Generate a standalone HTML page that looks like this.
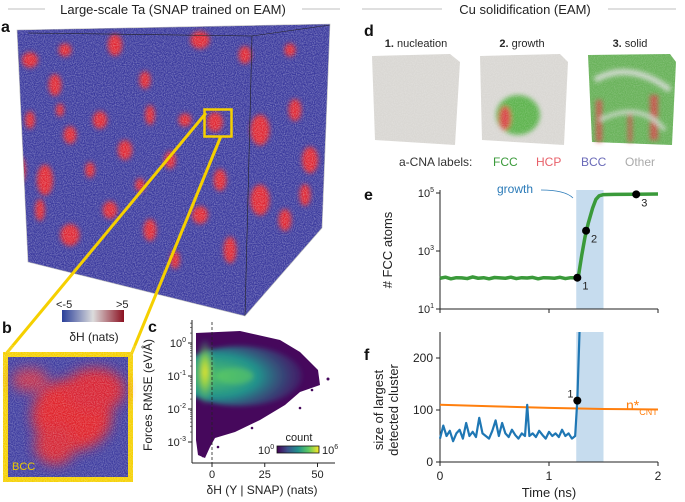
<!DOCTYPE html>
<html><head><meta charset="utf-8"><style>
html,body{margin:0;padding:0;background:#fff;width:685px;height:502px;overflow:hidden}
svg text{font-family:"Liberation Sans","DejaVu Sans",sans-serif}
</style></head><body>
<svg id="fig" width="685" height="502" viewBox="0 0 685 502" xmlns="http://www.w3.org/2000/svg">
<defs>
<filter id="blur3"><feGaussianBlur stdDeviation="2.5"/></filter>
<filter id="blur6"><feGaussianBlur stdDeviation="6"/></filter>
<filter id="noise"><feTurbulence type="fractalNoise" baseFrequency="0.9" numOctaves="1" seed="3"/><feColorMatrix values="0 0 0 0 1  0 0 0 0 1  0 0 0 0 1  0 0 0 -1.6 1.05"/></filter>
<linearGradient id="cbar" x1="0" x2="1"><stop offset="0" stop-color="#2a3f9a"/><stop offset="0.5" stop-color="#dcdcdc"/><stop offset="1" stop-color="#8b1020"/></linearGradient>
<linearGradient id="viridis" x1="0" x2="1"><stop offset="0" stop-color="#440154"/><stop offset="0.25" stop-color="#3b528b"/><stop offset="0.5" stop-color="#21918c"/><stop offset="0.75" stop-color="#5ec962"/><stop offset="1" stop-color="#fde725"/></linearGradient>
<radialGradient id="core" cx="0.5" cy="0.5" r="0.5"><stop offset="0" stop-color="#f0e52a"/><stop offset="0.4" stop-color="#8fd04a"/><stop offset="1" stop-color="#2a9a8a" stop-opacity="0"/></radialGradient>
<radialGradient id="mid" cx="0.3" cy="0.5" r="0.7"><stop offset="0" stop-color="#4fbf6a"/><stop offset="0.5" stop-color="#22928c"/><stop offset="1" stop-color="#33658e" stop-opacity="0.2"/></radialGradient>
<clipPath id="cubeclip"><polygon points="17,30 330,24 322,228 245,316 28,262"/></clipPath>
<clipPath id="cclip"><path d="M196,333 L240,331 L280,340 L300,352 L318,370 L320,385 L300,392 L285,405 L260,420 L235,432 L215,438 L210,447 L205,458 L198,455 L196,440 Z"/></clipPath>
</defs>

<g>
<line x1="8" y1="9" x2="45" y2="9" stroke="#aaa" stroke-width="0.8"/>
<line x1="302" y1="9" x2="340" y2="9" stroke="#aaa" stroke-width="0.8"/>
<text x="173" y="14" font-size="13" text-anchor="middle" fill="#222">Large-scale Ta (SNAP trained on EAM)</text>
</g>
<g>
<line x1="362" y1="9" x2="442" y2="9" stroke="#aaa" stroke-width="0.8"/>
<line x1="608" y1="9" x2="676" y2="9" stroke="#aaa" stroke-width="0.8"/>
<text x="525" y="14" font-size="13" text-anchor="middle" fill="#222">Cu solidification (EAM)</text>
</g>

<g font-weight="bold" font-size="16" fill="#111">
<text x="1" y="32">a</text>
<text x="2" y="333">b</text>
<text x="148" y="332">c</text>
<text x="364" y="36">d</text>
<text x="364" y="200">e</text>
<text x="364" y="360">f</text>
</g>

<g>
<polygon points="17,30 330,24 322,228 245,316 28,262" fill="#3b3a9e"/>
<g clip-path="url(#cubeclip)" id="patches" filter="url(#blur3)"></g>
<g clip-path="url(#cubeclip)"><rect x="0" y="0" width="340" height="330" filter="url(#noise)" opacity="0.45"/></g>
<polyline points="28,33 252,36 245,316" fill="none" stroke="#222" stroke-width="0.6"/>
<line x1="252" y1="36" x2="330" y2="25" stroke="#222" stroke-width="0.5"/>
<polygon points="17,30 330,24 322,228 245,316 28,262" fill="none" stroke="#bbb" stroke-width="0.6"/>
</g>
<rect x="204.5" y="109.5" width="27" height="27" fill="none" stroke="#f5d000" stroke-width="2.5"/>
<line x1="206" y1="113" x2="5" y2="355" stroke="#f5d000" stroke-width="3"/>
<line x1="221" y1="136" x2="131" y2="355" stroke="#f5d000" stroke-width="3"/>

<g>
<rect x="62" y="310" width="62" height="12" fill="url(#cbar)"/>
<text x="56" y="308" font-size="11" fill="#222">&lt;-5</text>
<text x="116" y="308" font-size="11" fill="#222">&gt;5</text>
<text x="94" y="341" font-size="12" text-anchor="middle" fill="#222">δH (nats)</text>
</g>

<g>
<rect x="3" y="352" width="130" height="130" fill="#f5d000"/>
<rect x="8" y="357" width="120" height="120" fill="#3f3da0"/>
<g filter="url(#blur6)">
<ellipse cx="72" cy="415" rx="40" ry="36" fill="#e0202a"/>
<ellipse cx="95" cy="390" rx="30" ry="22" fill="#d82030"/>
<ellipse cx="55" cy="445" rx="20" ry="20" fill="#d52535"/>
<ellipse cx="30" cy="380" rx="18" ry="12" fill="#c03050"/>
</g>
<rect x="8" y="357" width="120" height="120" filter="url(#noise)" opacity="0.4"/>
<text x="12" y="470" font-size="11" fill="#e8c800">BCC</text>
</g>

<g>
<path d="M196,333 L240,331 L280,340 L300,352 L318,370 L320,385 L300,392 L285,405 L260,420 L235,432 L215,438 L210,447 L205,458 L198,455 L196,440 Z" fill="#46085c"/>
<g clip-path="url(#cclip)" filter="url(#blur3)">
<ellipse cx="240" cy="376" rx="62" ry="30" fill="url(#mid)"/>
<ellipse cx="205" cy="372" rx="10" ry="34" fill="url(#core)"/>
<ellipse cx="235" cy="376" rx="18" ry="8" fill="#5ec962" opacity="0.6"/>
</g>
<g fill="#46085c">
<circle cx="328" cy="379" r="1.5"/><circle cx="312" cy="390" r="1.3"/><circle cx="300" cy="408" r="1.3"/><circle cx="218" cy="447" r="1.3"/><circle cx="203" cy="456" r="1.3"/><circle cx="252" cy="428" r="1.3"/>
</g>
<line x1="212" y1="322" x2="212" y2="463" stroke="#222" stroke-width="0.8" stroke-dasharray="3,2"/>
<line x1="192" y1="320" x2="192" y2="463" stroke="#222" stroke-width="1"/>
<line x1="192" y1="463" x2="335" y2="463" stroke="#222" stroke-width="1"/>
<g id="cticks"></g>
<text x="152" y="395" font-size="12" fill="#222" text-anchor="middle" transform="rotate(-90 152 395)">Forces RMSE (eV/Å)</text>
<text x="262" y="494" font-size="12" fill="#222" text-anchor="middle">δH (Y | SNAP) (nats)</text>
<g>
<text x="299" y="441" font-size="11" text-anchor="middle" fill="#222">count</text>
<rect x="277" y="446" width="42" height="7" fill="url(#viridis)" stroke="#111" stroke-width="0.8"/>
<text x="258" y="454" font-size="11" fill="#222">10<tspan font-size="7" dy="-5">0</tspan></text>
<text x="322" y="454" font-size="11" fill="#222">10<tspan font-size="7" dy="-5">6</tspan></text>
</g>
</g>

<g>
<g font-size="11" fill="#222" text-anchor="middle">
<text x="416" y="47"><tspan font-weight="bold">1.</tspan> nucleation</text>
<text x="522" y="47"><tspan font-weight="bold">2.</tspan> growth</text>
<text x="630" y="47"><tspan font-weight="bold">3.</tspan> solid</text>
</g>
<polygon points="372,56 450,54 460,62 455,145 375,140" fill="#d9d7d3"/>
<polygon points="480,56 560,54 568,62 564,145 482,140" fill="#d9d7d3"/>
<g filter="url(#blur3)">
<ellipse cx="518" cy="115" rx="22" ry="20" fill="#5fb450"/>
<ellipse cx="505" cy="118" rx="6" ry="12" fill="#d84a4a"/>
</g>
<polygon points="588,55 670,54 676,62 672,145 592,142" fill="#69b25a"/>
<g filter="url(#blur3)" opacity="0.85">
<rect x="596" y="100" width="6" height="42" fill="#d24848"/>
<rect x="650" y="95" width="8" height="45" fill="#d24848"/>
<rect x="628" y="110" width="4" height="32" fill="#d24848"/>
<path d="M595,80 Q630,60 670,90" stroke="#ddd" stroke-width="6" fill="none"/>
<path d="M600,120 Q640,100 665,130" stroke="#ddd" stroke-width="4" fill="none"/>
</g>
<rect x="372" y="54" width="304" height="92" filter="url(#noise)" opacity="0.25"/>
<g font-size="12">
<text x="399" y="166" fill="#333">a-CNA labels:</text>
<text x="493" y="166" fill="#3a9a3a">FCC</text>
<text x="536" y="166" fill="#e8606a">HCP</text>
<text x="581" y="166" fill="#6a6ab8">BCC</text>
<text x="625" y="166" fill="#aaa">Other</text>
</g>
</g>

<g id="pe"></g>
<g id="pf"></g>

<script>
var NS="http://www.w3.org/2000/svg";
function mk(tag,attrs,parent){var e=document.createElementNS(NS,tag);for(var k in attrs)e.setAttribute(k,attrs[k]);parent.appendChild(e);return e;}
function pow10(t,e){t.appendChild(document.createTextNode('10'));var s=mk('tspan',{'font-size':7,dy:-5},t);s.textContent=e;}

var cXTicks=[0,25,50];
var cYTickExps=[0,-1,-2,-3];
var fccTimes=[0,0.05,0.1,0.15,0.2,0.25,0.3,0.35,0.4,0.45,0.5,0.55,0.6,0.65,0.7,0.75,0.8,0.85,0.9,0.95,1.0,1.05,1.1,1.15,1.2,1.25,1.27,1.3,1.33,1.36,1.4,1.43,1.46,1.5,1.6,1.8,2.0];
var fccCounts=[115,125,110,120,118,112,128,115,120,110,122,118,115,125,112,120,117,123,110,120,118,115,124,112,120,118,135,700,3000,9000,30000,60000,80000,88000,90000,91000,92000];
var eMarkerTimes=[1.26,1.34,1.8];
var eMarkerCounts=[120,5000,90000];
var eMarkerLabels=["1","2","3"];
var eYTickExps=[5,3,1];
var xTicks=[0,1,2];
var growthStart=1.25, growthEnd=1.5;
var clusterTimes=[0,0.03,0.06,0.09,0.12,0.15,0.18,0.21,0.24,0.27,0.3,0.33,0.36,0.39,0.42,0.45,0.48,0.51,0.54,0.57,0.6,0.63,0.66,0.69,0.72,0.75,0.78,0.8,0.82,0.85,0.88,0.91,0.94,0.97,1.0,1.03,1.06,1.09,1.12,1.15,1.18,1.21,1.24,1.26,1.28];
var clusterSizes=[45,70,50,60,40,55,62,45,75,50,58,48,85,55,50,45,60,80,50,75,55,48,62,52,45,55,50,110,50,55,48,60,52,45,58,50,55,48,62,50,55,45,50,120,250];
var cntTimes=[0,0.5,1.0,1.5,2.0];
var cntValues=[110,107,104,102,101];
var fMarkerTimes=[1.26];
var fMarkerSizes=[118];
var fYTicks=[0,100,200];

var ct=document.getElementById('cticks');
function cx(v){return 212+v*2.11;}
function cy(e){return 343-e*33;}
cXTicks.forEach(function(v){
 mk('line',{x1:cx(v),y1:463,x2:cx(v),y2:467,stroke:'#222'},ct);
 var t=mk('text',{x:cx(v),y:478,'font-size':11,'text-anchor':'middle',fill:'#222'},ct);t.textContent=v;
 
 
});
cYTickExps.forEach(function(e){
 mk('line',{x1:188,y1:cy(e),x2:192,y2:cy(e),stroke:'#222'},ct);
 for(var m=2;m<10;m++){var yy=cy(e+Math.log10(m));if(yy>320)mk('line',{x1:190,y1:yy,x2:192,y2:yy,stroke:'#222','stroke-width':0.6},ct);}
 var t=mk('text',{x:186,y:cy(e)+4,'font-size':11,'text-anchor':'end',fill:'#222'},ct);
 
 
 pow10(t,e);
});

var pg=document.getElementById('patches');
var pts=[[30,60,10,7],[65,50,8,6],[115,45,9,10],[200,40,12,8],[245,55,8,8],[290,50,7,6],[55,85,8,10],[145,80,7,8],[100,120,9,8],[150,115,6,9],[185,120,8,6],[70,135,8,8],[20,170,7,12],[45,180,10,14],[125,150,9,9],[170,160,7,8],[215,122,10,9],[220,180,8,10],[260,130,12,14],[295,110,8,10],[310,160,10,12],[260,200,12,14],[285,220,8,10],[70,235,12,10],[110,210,9,8],[150,230,8,10],[200,215,10,8],[140,185,6,6],[40,210,6,10],[305,195,7,10],[90,170,6,7],[230,250,8,12],[175,260,6,8],[60,110,5,6],[30,120,6,8]];
pts.forEach(function(p){mk('ellipse',{cx:p[0],cy:p[1],rx:p[2]*0.8,ry:p[3]*1.1,fill:'#e02530'},pg);});

var pe=document.getElementById('pe');
function tx(t){return 440+t*109;}
function ey(v){return 309-(Math.log10(v)-1)*29;}
var sh=mk('rect',{x:tx(growthStart),y:190,width:tx(growthEnd)-tx(growthStart),height:119,fill:'#c6dcee'},pe);


mk('line',{x1:440,y1:190,x2:440,y2:309,stroke:'#222'},pe);
mk('line',{x1:440,y1:309,x2:658,y2:309,stroke:'#222'},pe);
xTicks.forEach(function(v){mk('line',{x1:tx(v),y1:309,x2:tx(v),y2:313,stroke:'#222'},pe);});
eYTickExps.forEach(function(e){
 mk('line',{x1:436,y1:ey(Math.pow(10,e)),x2:440,y2:ey(Math.pow(10,e)),stroke:'#222'},pe);
 var t=mk('text',{x:434,y:ey(Math.pow(10,e))+4,'font-size':11,'text-anchor':'end',fill:'#222'},pe);
 
 
 pow10(t,e);
});
var d='';fccTimes.forEach(function(t,i){d+=(i?'L':'M')+tx(t)+','+ey(fccCounts[i]);});
var fl=mk('path',{d:d,fill:'none',stroke:'#3a9a3a','stroke-width':3.5,'stroke-linejoin':'round'},pe);


eMarkerTimes.forEach(function(t,i){
 var c=mk('circle',{cx:tx(t),cy:ey(eMarkerCounts[i]),r:4,fill:'#000'},pe);
 
 
 var l=mk('text',{x:tx(t)+5,y:ey(eMarkerCounts[i])+12,'font-size':11,fill:'#222'},pe);l.textContent=eMarkerLabels[i];
});
var gt=mk('text',{x:497,y:193,'font-size':12,fill:'#2a7ab8'},pe);gt.textContent='growth';


mk('path',{d:'M541,190 Q565,190 573,198',fill:'none',stroke:'#2a7ab8','stroke-width':0.8},pe);
var ylab=mk('text',{x:392,y:250,'font-size':13,'text-anchor':'middle',fill:'#222',transform:'rotate(-90 392 250)'},pe);ylab.textContent='# FCC atoms';



var pf=document.getElementById('pf');
function fy(v){return 462-v*0.52;}
var sh2=mk('rect',{x:tx(growthStart),y:fy(250),width:tx(growthEnd)-tx(growthStart),height:fy(0)-fy(250),fill:'#c6dcee'},pf);


mk('line',{x1:440,y1:fy(250),x2:440,y2:462,stroke:'#222'},pf);
mk('line',{x1:440,y1:462,x2:658,y2:462,stroke:'#222'},pf);
xTicks.forEach(function(v){
 mk('line',{x1:tx(v),y1:462,x2:tx(v),y2:466,stroke:'#222'},pf);
 var t=mk('text',{x:tx(v),y:480,'font-size':12,'text-anchor':'middle',fill:'#222'},pf);t.textContent=v;
 
 
});
fYTicks.forEach(function(v){
 mk('line',{x1:436,y1:fy(v),x2:440,y2:fy(v),stroke:'#222'},pf);
 var t=mk('text',{x:433,y:fy(v)+4,'font-size':12,'text-anchor':'end',fill:'#222'},pf);t.textContent=v;
 
 
});
d='';cntTimes.forEach(function(t,i){d+=(i?'L':'M')+tx(t)+','+fy(cntValues[i]);});
var ol=mk('path',{d:d,fill:'none',stroke:'#ff7f0e','stroke-width':2},pf);


d='';clusterTimes.forEach(function(t,i){d+=(i?'L':'M')+tx(t)+','+fy(clusterSizes[i]);});
var bl=mk('path',{d:d,fill:'none',stroke:'#1f77b4','stroke-width':2.2,'stroke-linejoin':'round'},pf);


fMarkerTimes.forEach(function(t,i){
 var c=mk('circle',{cx:tx(t),cy:fy(fMarkerSizes[i]),r:4,fill:'#000'},pf);
 
 
 var l=mk('text',{x:tx(t)-10,y:fy(fMarkerSizes[i])-3,'font-size':11,fill:'#222'},pf);l.textContent='1';
});
var nl=mk('text',{x:626,y:410,'font-size':14,fill:'#ff7f0e'},pf);


nl.appendChild(document.createTextNode('n*'));
var sub=mk('tspan',{'font-size':9,dy:5},nl);sub.textContent='CNT';
var y1=mk('text',{x:383,y:410,'font-size':13,'text-anchor':'middle',fill:'#222',transform:'rotate(-90 383 410)'},pf);y1.textContent='size of largest';


var y2=mk('text',{x:398,y:410,'font-size':13,'text-anchor':'middle',fill:'#222',transform:'rotate(-90 398 410)'},pf);y2.textContent='detected cluster';


var xl=mk('text',{x:549,y:497,'font-size':13,'text-anchor':'middle',fill:'#222'},pf);xl.textContent='Time (ns)';


</script>
</svg>
</body></html>
